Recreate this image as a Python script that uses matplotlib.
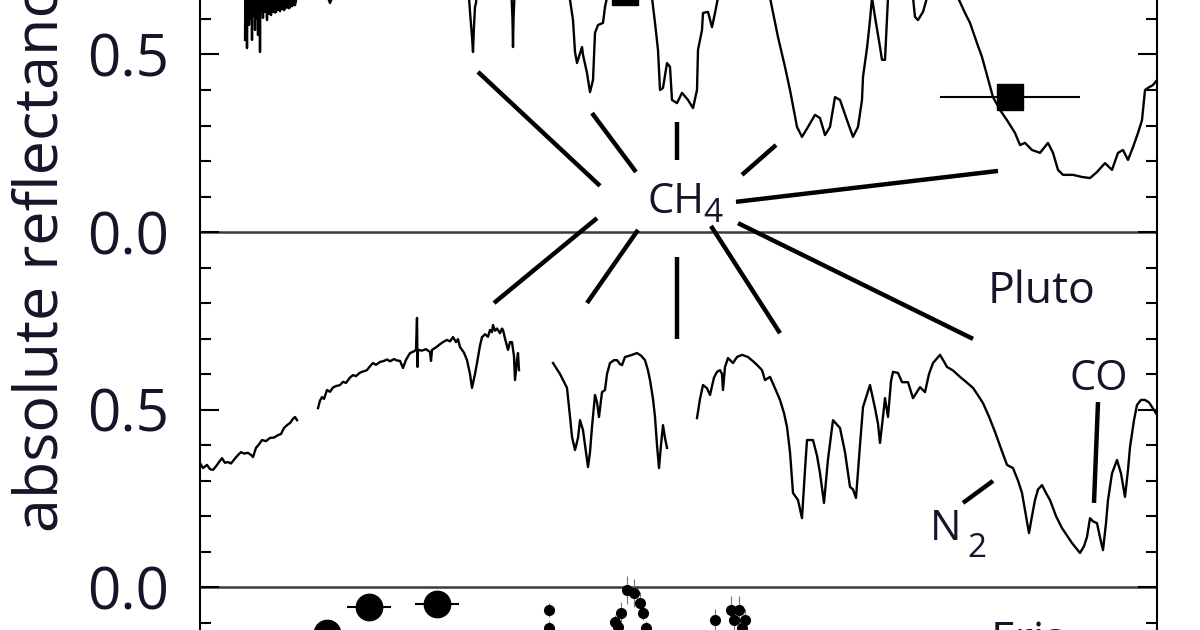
import numpy as np
import matplotlib
matplotlib.use("Agg")
import matplotlib.pyplot as plt
from matplotlib.ticker import FixedLocator, FixedFormatter, MultipleLocator

plt.rcParams['font.family'] = ['Open Sans', 'DejaVu Sans']

# ---------------- data (wavelength in micron, absolute reflectance) ----------------
# upper object (top panel), offset by +1.0
top_w = [0.490, 0.491, 0.492, 0.493, 0.494, 0.495, 0.496, 0.497, 0.498, 0.499, 0.500, 0.501,
         0.502, 0.503, 0.504, 0.505, 0.506, 0.507, 0.508, 0.509, 0.510, 0.511, 0.512, 0.513,
         0.514, 0.515, 0.516, 0.517, 0.518, 0.519, 0.520, 0.521, 0.522, 0.524, 0.526, 0.528,
         0.530, 0.532, 0.534, 0.536, 0.538, 0.540, 0.542, 0.544, 0.546, 0.548, 0.550, 0.552,
         0.554, 0.556, 0.558, 0.560, 0.562, 0.564, 0.566, 0.568, 0.570, 0.572, 0.574, 0.576,
         0.578, 0.580, 0.582, 0.584, 0.586, 0.588, 0.590,
         0.600, 0.650, 0.656, 0.660, 0.664, 0.700, 0.800, 0.900, 0.936,
         0.940, 0.944, 0.946, 0.948, 0.950, 0.952, 0.954, 1.000, 1.022, 1.025, 1.026, 1.027, 1.030,
         1.100, 1.138, 1.140, 1.146, 1.150, 1.154, 1.164, 1.166, 1.174, 1.180, 1.186, 1.190, 1.196,
         1.206, 1.210, 1.214, 1.230, 1.290, 1.304, 1.310, 1.316, 1.320, 1.326, 1.334, 1.340, 1.344,
         1.354, 1.364, 1.376, 1.386, 1.394, 1.396, 1.404, 1.406, 1.416, 1.424, 1.430, 1.436,
         1.450, 1.530, 1.540, 1.556, 1.570, 1.580, 1.594, 1.604, 1.616, 1.630, 1.640, 1.650,
         1.660, 1.670, 1.680, 1.694, 1.706, 1.716, 1.724, 1.726, 1.734, 1.740, 1.744, 1.750,
         1.760, 1.764, 1.770, 1.774, 1.776, 1.800, 1.826, 1.830, 1.836, 1.846, 1.854, 1.880,
         1.900, 1.916, 1.930, 1.940, 1.954, 1.964, 1.974, 1.986, 2.000, 2.014, 2.030, 2.040,
         2.050, 2.064, 2.080, 2.096, 2.106, 2.116, 2.126, 2.146, 2.164, 2.180, 2.194, 2.210,
         2.224, 2.236, 2.246, 2.256, 2.266, 2.276, 2.284, 2.290, 2.296, 2.306, 2.314]
top_r = [0.541, 0.70, 0.600, 0.68, 0.518, 0.70, 0.630, 0.69, 0.583, 0.71, 0.625, 0.69,
         0.600, 0.70, 0.541, 0.71, 0.640, 0.69, 0.610, 0.70, 0.569, 0.70, 0.625, 0.69,
         0.600, 0.71, 0.555, 0.69, 0.639, 0.70, 0.507, 0.70, 0.625, 0.69, 0.603, 0.70,
         0.620, 0.69, 0.597, 0.70, 0.615, 0.69, 0.611, 0.70, 0.620, 0.69, 0.618, 0.620,
         0.70, 0.625, 0.69, 0.622, 0.70, 0.628, 0.69, 0.625, 0.630, 0.70, 0.632, 0.69,
         0.630, 0.634, 0.70, 0.636, 0.69, 0.640, 0.639,
         0.70, 0.70, 0.66, 0.645, 0.66, 0.70, 0.70, 0.70, 0.70,
         0.620, 0.550, 0.507, 0.580, 0.634, 0.645, 0.70, 0.70, 0.70, 0.600, 0.521, 0.600, 0.70,
         0.70, 0.70, 0.654, 0.597, 0.507, 0.476, 0.521, 0.499, 0.448, 0.394, 0.428, 0.561, 0.583,
         0.589, 0.634, 0.66, 0.70, 0.70, 0.66, 0.589, 0.513, 0.400, 0.406, 0.476, 0.465, 0.372,
         0.363, 0.392, 0.372, 0.349, 0.400, 0.513, 0.569, 0.617, 0.620, 0.577, 0.617, 0.66,
         0.70, 0.70, 0.66, 0.549, 0.465, 0.400, 0.296, 0.268, 0.296, 0.330, 0.321, 0.273,
         0.296, 0.380, 0.372, 0.315, 0.268, 0.296, 0.372, 0.437, 0.518, 0.597, 0.66, 0.606,
         0.521, 0.485, 0.485, 0.606, 0.66, 0.70, 0.66, 0.606, 0.597, 0.620, 0.66, 0.70,
         0.70, 0.66, 0.617, 0.589, 0.532, 0.493, 0.442, 0.380, 0.344, 0.315, 0.279, 0.245,
         0.251, 0.231, 0.223, 0.251, 0.223, 0.175, 0.161, 0.161, 0.155, 0.152, 0.169, 0.194,
         0.175, 0.223, 0.231, 0.203, 0.239, 0.279, 0.315, 0.400, 0.406, 0.414, 0.428]
top_phot_w = [0.516, 1.250, 2.020]
top_phot_r = [0.658, 0.675, 0.380]
top_phot_werr = [0.03, 0.03, 0.14]

# Pluto (middle panel), four spectral pieces
pluto_a_w = [0.400, 0.406, 0.414, 0.420, 0.426, 0.432, 0.438, 0.444, 0.450, 0.456, 0.462, 0.470,
             0.476, 0.482, 0.488, 0.496, 0.502, 0.506, 0.512, 0.518, 0.524, 0.532, 0.540, 0.548,
             0.556, 0.562, 0.568, 0.574, 0.580, 0.586, 0.590, 0.594]
pluto_a_r = [0.349, 0.335, 0.344, 0.332, 0.330, 0.340, 0.352, 0.363, 0.350, 0.352, 0.348, 0.362,
             0.372, 0.380, 0.376, 0.378, 0.372, 0.366, 0.392, 0.402, 0.414, 0.411, 0.420, 0.421,
             0.428, 0.431, 0.448, 0.456, 0.462, 0.474, 0.479, 0.470]
pluto_b_w = [0.636, 0.640, 0.644, 0.648, 0.654, 0.660, 0.666, 0.672, 0.680, 0.686, 0.692, 0.700,
             0.706, 0.712, 0.720, 0.728, 0.734, 0.740, 0.746, 0.752, 0.760, 0.768, 0.774, 0.780,
             0.788, 0.794, 0.800, 0.806, 0.812, 0.820, 0.828, 0.832, 0.834, 0.835, 0.836, 0.844,
             0.852, 0.860, 0.862, 0.864, 0.872, 0.880, 0.886, 0.894, 0.900, 0.906, 0.912, 0.916,
             0.920, 0.928, 0.934, 0.940, 0.944, 0.950, 0.954, 0.960, 0.964, 0.970, 0.976, 0.980,
             0.984, 0.986, 0.990, 0.994, 1.000, 1.004, 1.006, 1.010, 1.016, 1.020, 1.024, 1.028,
             1.030, 1.034, 1.036, 1.038]
pluto_b_r = [0.504, 0.525, 0.535, 0.530, 0.555, 0.550, 0.562, 0.566, 0.569, 0.578, 0.575, 0.590,
             0.597, 0.594, 0.604, 0.608, 0.611, 0.622, 0.631, 0.626, 0.634, 0.637, 0.641, 0.636,
             0.642, 0.638, 0.637, 0.617, 0.640, 0.659, 0.664, 0.668, 0.758, 0.620, 0.668, 0.666,
             0.670, 0.662, 0.637, 0.668, 0.675, 0.684, 0.690, 0.696, 0.692, 0.704, 0.690, 0.698,
             0.676, 0.660, 0.639, 0.600, 0.561, 0.600, 0.631, 0.680, 0.704, 0.712, 0.705, 0.724,
             0.718, 0.738, 0.722, 0.728, 0.715, 0.728, 0.724, 0.700, 0.668, 0.690, 0.690, 0.650,
             0.583, 0.640, 0.659, 0.611]
pluto_c_w = [1.106, 1.120, 1.134, 1.140, 1.144, 1.150, 1.156, 1.160, 1.166, 1.170, 1.176, 1.180,
             1.184, 1.190, 1.194, 1.198, 1.204, 1.210, 1.214, 1.220, 1.228, 1.234, 1.240, 1.244,
             1.250, 1.260, 1.274, 1.282, 1.290, 1.296, 1.300, 1.306, 1.310, 1.314, 1.318, 1.322,
             1.326, 1.330, 1.334]
pluto_c_r = [0.631, 0.600, 0.561, 0.480, 0.423, 0.386, 0.420, 0.470, 0.442, 0.400, 0.338, 0.380,
             0.451, 0.541, 0.520, 0.479, 0.549, 0.555, 0.600, 0.631, 0.639, 0.639, 0.628, 0.625,
             0.648, 0.652, 0.659, 0.652, 0.639, 0.610, 0.583, 0.530, 0.479, 0.400, 0.335, 0.400,
             0.456, 0.420, 0.392]
pluto_d_w = [1.394, 1.400, 1.406, 1.414, 1.420, 1.428, 1.434, 1.440, 1.444, 1.446, 1.450, 1.456,
             1.466, 1.474, 1.484, 1.496, 1.510, 1.518, 1.524, 1.530, 1.540, 1.550, 1.560, 1.568,
             1.574, 1.580, 1.586, 1.596, 1.604, 1.610, 1.614, 1.626, 1.634, 1.640, 1.648, 1.656,
             1.666, 1.680, 1.690, 1.700, 1.706, 1.712, 1.720, 1.726, 1.740, 1.746, 1.750, 1.756,
             1.760, 1.766, 1.770, 1.776, 1.782, 1.786, 1.796, 1.804, 1.816, 1.826, 1.840, 1.850,
             1.858, 1.866, 1.880, 1.888, 1.894, 1.906, 1.920, 1.932, 1.946, 1.956, 1.966, 1.978,
             1.990, 2.002, 2.014, 2.026, 2.036, 2.044, 2.052, 2.058, 2.064, 2.070, 2.076, 2.084,
             2.092, 2.100, 2.112, 2.124, 2.134, 2.144, 2.152, 2.160, 2.168, 2.174, 2.180, 2.186,
             2.194, 2.200, 2.206, 2.212, 2.216, 2.224, 2.234, 2.242, 2.250, 2.256, 2.260, 2.268,
             2.274, 2.282, 2.290, 2.298, 2.304, 2.314]
pluto_d_r = [0.476, 0.530, 0.569, 0.560, 0.541, 0.590, 0.606, 0.611, 0.600, 0.555, 0.620, 0.645,
             0.631, 0.648, 0.654, 0.648, 0.631, 0.620, 0.611, 0.583, 0.592, 0.560, 0.527, 0.490,
             0.451, 0.380, 0.265, 0.245, 0.194, 0.330, 0.414, 0.414, 0.370, 0.321, 0.237, 0.360,
             0.470, 0.448, 0.380, 0.282, 0.275, 0.251, 0.400, 0.507, 0.569, 0.530, 0.504, 0.460,
             0.406, 0.480, 0.532, 0.479, 0.580, 0.606, 0.603, 0.577, 0.577, 0.532, 0.563, 0.549,
             0.600, 0.631, 0.654, 0.635, 0.620, 0.610, 0.592, 0.578, 0.561, 0.540, 0.518, 0.480,
             0.437, 0.390, 0.344, 0.335, 0.300, 0.265, 0.200, 0.152, 0.200, 0.245, 0.275, 0.287,
             0.265, 0.245, 0.200, 0.166, 0.145, 0.124, 0.110, 0.096, 0.115, 0.141, 0.194, 0.185,
             0.180, 0.140, 0.104, 0.180, 0.245, 0.320, 0.358, 0.320, 0.254, 0.330, 0.394, 0.470,
             0.513, 0.527, 0.527, 0.520, 0.507, 0.485]

# Eris (bottom panel), offset by -1.0
eris_big_w = [0.654, 0.738, 0.874]
eris_big_r = [0.870, 0.944, 0.952]
eris_big_werr = [0.044, 0.044, 0.044]
eris_small_w = [1.098, 1.098, 1.230, 1.236, 1.242, 1.254, 1.268, 1.280, 1.286, 1.292,
                1.430, 1.462, 1.468, 1.478, 1.490, 1.484]
eris_small_r = [0.935, 0.885, 0.901, 0.887, 0.927, 0.992, 0.983, 0.955, 0.927, 0.885,
                0.907, 0.935, 0.907, 0.935, 0.907, 0.885]
eris_small_rerr = [0.02, 0.02, 0.02, 0.02, 0.03, 0.04, 0.04, 0.03, 0.02, 0.02,
                   0.03, 0.04, 0.03, 0.04, 0.03, 0.02]

TOP_OFFSET = 1.0
ERIS_OFFSET = -1.0

# band-marker segments ((w0, y0), (w1, y1)) in plot coordinates
ch4_marks = [((0.956, 1.451), (1.200, 1.130)),
             ((1.184, 1.335), (1.272, 1.169)),
             ((1.354, 1.310), (1.354, 1.203)),
             ((1.484, 1.161), (1.552, 1.245)),
             ((1.472, 1.085), (1.996, 1.172)),
             ((0.988, 0.800), (1.194, 1.039)),
             ((1.174, 0.800), (1.276, 1.006)),
             ((1.354, 0.930), (1.354, 0.699)),
             ((1.422, 1.017), (1.560, 0.715)),
             ((1.476, 1.025), (1.946, 0.699))]
n2_mark = ((1.926, 0.237), (1.986, 0.299))
co_mark = ((2.196, 0.521), (2.188, 0.237))

# ---------------- figure ----------------
fig = plt.figure(figsize=(12, 6.3), dpi=100)
ax = fig.add_axes([200 / 1200, 0.0, 957 / 1200, 1.0])
ax.set_xlim(0.400, 2.314)
ax.set_ylim(-0.121, 1.6535)

lc = 'black'
lw = 1.7
ax.plot(top_w, np.array(top_r) + TOP_OFFSET, color=lc, lw=lw)
for w, r in [(pluto_a_w, pluto_a_r), (pluto_b_w, pluto_b_r),
             (pluto_c_w, pluto_c_r), (pluto_d_w, pluto_d_r)]:
    ax.plot(w, r, color=lc, lw=lw)

ax.errorbar(top_phot_w, np.array(top_phot_r) + TOP_OFFSET, xerr=top_phot_werr,
            fmt='s', ms=19, color='black', ecolor='black', elinewidth=1.5, capsize=0)
ax.errorbar(eris_big_w, np.array(eris_big_r) + ERIS_OFFSET, xerr=eris_big_werr,
            fmt='o', ms=19, color='black', ecolor='black', elinewidth=1.5, capsize=0)
ax.errorbar(eris_small_w, np.array(eris_small_r) + ERIS_OFFSET, yerr=eris_small_rerr,
            fmt='o', ms=7, color='black', ecolor='#777777', elinewidth=0.8, capsize=0)

for yz in (0.0, TOP_OFFSET):
    ax.axhline(yz, color='#3a3a3a', lw=1.8, zorder=1)

for (p0, p1) in ch4_marks + [n2_mark, co_mark]:
    ax.plot([p0[0], p1[0]], [p0[1], p1[1]], color='black', lw=3.2, solid_capstyle='butt')

tc = '#15152a'
ax.text(1.296, 1.054, 'CH', fontsize=30, color=tc, ha='left', va='baseline')
ax.text(1.406, 1.028, '4', fontsize=24, color=tc, ha='left', va='baseline')
ax.text(1.976, 0.800, 'Pluto', fontsize=32, color=tc, ha='left', va='baseline')
ax.text(1.860, 0.132, 'N', fontsize=30, color=tc, ha='left', va='baseline')
ax.text(1.934, 0.085, '2', fontsize=24, color=tc, ha='left', va='baseline')
ax.text(2.140, 0.555, 'CO', fontsize=30, color=tc, ha='left', va='baseline')
ax.text(1.982, -0.186, 'Eris', fontsize=32, color=tc, ha='left', va='baseline', clip_on=False)

# axes styling
for s in ('top', 'bottom'):
    ax.spines[s].set_visible(False)
for s in ('left', 'right'):
    ax.spines[s].set_linewidth(1.5)
ax.set_xticks([])
ax.yaxis.set_major_locator(FixedLocator([-0.5, 0.0, 0.5, 1.0, 1.5]))
ax.yaxis.set_major_formatter(FixedFormatter(['0.5', '0.0', '0.5', '0.0', '0.5']))
ax.yaxis.set_minor_locator(MultipleLocator(0.1))
ax.tick_params(axis='y', which='both', direction='in', left=True, right=True,
               width=1.5, labelsize=42, labelcolor=tc, pad=22)
ax.tick_params(axis='y', which='major', length=14)
ax.tick_params(axis='y', which='minor', length=8)

fig.text(57 / 1200, 1 - 532 / 630, 'absolute reflectance', rotation=90,
         rotation_mode='anchor', ha='left', va='baseline', fontsize=44, color=tc)

fig.savefig('out.png', dpi=100)
